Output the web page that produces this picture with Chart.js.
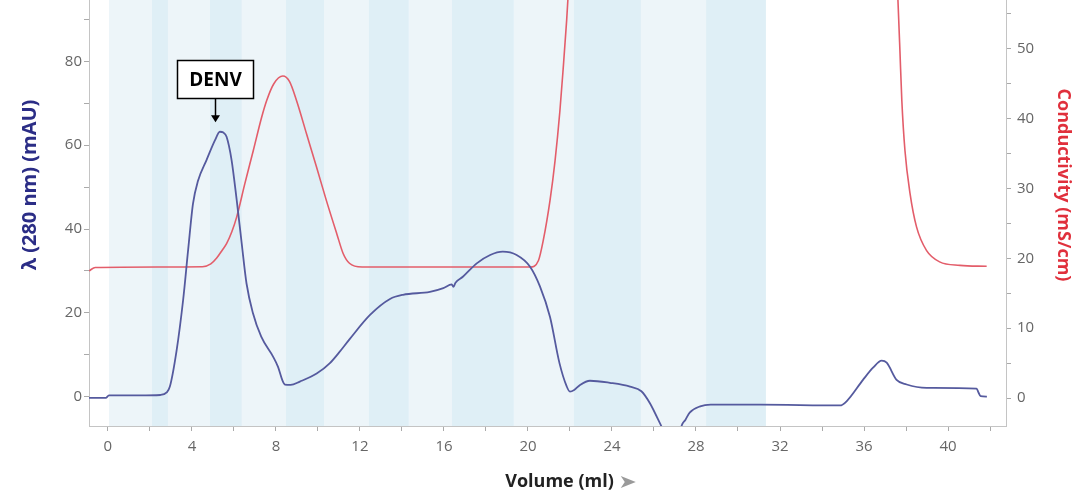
<!DOCTYPE html>
<html>
<head>
<meta charset="utf-8">
<script src="https://cdn.jsdelivr.net/npm/chart.js@4.4.0/dist/chart.umd.min.js"></script>
<style>
    html, body { margin: 0; padding: 0; background: #fff; overflow: hidden; }
    #wrap { position: relative; width: 1074px; height: 492px; overflow: hidden; }
    /* the original trace is cropped at the top, so the canvas runs a bit above the window */
    #chart { position: absolute; left: 0; top: -56px; }
</style>
</head>
<body>
<div id="wrap"><canvas id="chart" width="1074" height="548"></canvas></div>
<script>
// UV 280 nm trace (mAU) against elution volume (ml)
const uvVolume = [-0.9, -0.1, 0.05, 1.5, 2.5, 2.8, 2.95, 3.27, 3.58, 3.82, 4.05, 4.29, 4.7, 5.1, 5.33, 5.5, 5.65, 5.89,
    6.13, 6.37, 6.6, 6.9, 7.3, 7.87, 8.1, 8.3, 8.43, 8.7, 9.14, 9.94, 10.57, 11.0, 11.52, 12.48, 13.43, 14.05, 15.33,
    15.97, 16.37, 16.45, 16.55, 16.9, 17.56, 18.2, 18.8, 19.46, 20.1, 20.57, 21.05, 21.5, 21.84, 22.0, 22.2, 22.48,
    22.95, 23.9, 24.86, 25.4, 25.8, 26.2, 26.4, 26.7, 26.9, 27.05, 27.3, 27.5, 27.7, 28.2, 28.7, 31.05, 34.86, 35.17,
    35.95, 36.43, 36.84, 37.08, 37.55, 38.03, 38.98, 41.36, 41.45, 41.55, 41.85];
const uvAbs = [-0.3, -0.3, 0.3, 0.3, 0.4, 1.0, 2.4, 11, 23, 35, 46, 51.5, 56.5, 61.2, 63.2, 63, 62, 56.4,
    47, 36.6, 27, 20, 14.3, 9.5, 7.1, 4, 2.9, 2.8, 3.6, 5.5, 8, 10.5, 13.8, 19.5, 23.3, 24.3, 25,
    25.9, 26.8, 26.2, 27.2, 28.6, 31.8, 33.8, 34.6, 33.8, 31, 26.3, 19, 8, 2.5, 1.2, 1.6, 2.8,
    3.8, 3.3, 2.4, 1.3, -1.5, -5.5, -7.8, -15, -20, -15, -7.2, -5.5, -3.8, -2.3, -1.9, -1.9, -2.1, -1.1,
    4, 6.9, 8.6, 8.1, 4, 2.9, 2.1, 1.9, 1.0, 0.1, 0];

// conductivity trace (mS/cm)
const condVolume = [-0.9, -0.6, 4.5, 4.9, 5.17, 5.45, 5.65, 5.9, 6.13, 6.52, 6.92, 7.32, 7.56, 7.9, 8.33, 8.65, 8.98,
    9.46, 9.94, 10.4, 10.9, 11.2, 11.5, 12.1, 20.1, 20.5, 20.73, 21.05, 21.29, 21.52, 21.68, 21.84, 22.0, 22.3, 23,
    24, 36, 37.3, 37.55, 37.71, 37.8, 37.95, 38.19, 38.5, 38.98, 39.6, 40.57, 41.84];
const condValues = [18.2, 18.7, 18.8, 19.2, 20, 21.2, 22.1, 23.8, 25.9, 30.7, 35.4, 40.2, 42.6, 45, 46.1, 45.3, 42.6,
    37.8, 33, 28.3, 23.5, 20.7, 19.3, 18.76, 18.76, 19.7, 22.6, 28.3, 34, 41.1, 47.3, 54, 62, 75, 88,
    92, 92, 80, 62, 49.7, 42.6, 35.4, 29.3, 24.5, 21.1, 19.5, 19, 18.86];

// fraction band edges (ml), alternating light / dark shading
const fractionEdges = [0.05, 2.1, 2.86, 4.86, 6.38, 8.48, 10.29, 12.43, 14.33, 16.38, 19.33, 22.19, 25.38, 28.48, 31.33];

const volumeTicks = [0, 2, 4, 6, 8, 10, 12, 14, 16, 18, 20, 22, 24, 26, 28, 30, 32, 34, 36, 38, 40, 42];
const uvTicks = [0, 10, 20, 30, 40, 50, 60, 70, 80, 90, 100];
const condTicks = [0, 5, 10, 15, 20, 25, 30, 35, 40, 45, 50, 55, 60];

const peakLabel = 'DENV';
const peakVolume = 5.1;
const peakValue = 65.5;

const fractionBands = {
    id: 'fractionBands',
    beforeDraw(chart) {
        const { ctx, chartArea, scales: { x } } = chart;
        ctx.save();
        for (let i = 0; i < fractionEdges.length - 1; i++) {
            const x0 = x.getPixelForValue(fractionEdges[i]);
            const x1 = x.getPixelForValue(fractionEdges[i + 1]);
            ctx.fillStyle = i % 2 ? '#dfeff6' : '#edf5f9';
            ctx.fillRect(x0, chartArea.top, x1 - x0, chartArea.bottom - chartArea.top);
        }
        ctx.restore();
    }
};

const callouts = {
    id: 'callouts',
    afterDraw(chart) {
        const { ctx, scales: { x, y } } = chart;
        const px = Math.round(x.getPixelForValue(peakVolume)) + 0.5;
        const py = y.getPixelForValue(peakValue);
        ctx.save();
        // arrow pointing at the peak
        ctx.strokeStyle = '#000';
        ctx.fillStyle = '#000';
        ctx.lineWidth = 1.5;
        ctx.beginPath();
        ctx.moveTo(px, py - 24);
        ctx.lineTo(px, py - 6);
        ctx.stroke();
        ctx.beginPath();
        ctx.moveTo(px - 4.5, py - 7);
        ctx.lineTo(px + 4.5, py - 7);
        ctx.lineTo(px, py);
        ctx.closePath();
        ctx.fill();
        // label box
        const w = 76, h = 38, top = Math.round(py - 62) + 0.5;
        ctx.fillStyle = '#fff';
        ctx.fillRect(px - w / 2, top, w, h);
        ctx.strokeRect(px - w / 2, top, w, h);
        ctx.fillStyle = '#000';
        ctx.font = "bold 19px 'Open Sans', sans-serif";
        ctx.textAlign = 'center';
        ctx.textBaseline = 'middle';
        ctx.fillText(peakLabel, px, top + h / 2 + 1);

        // x axis title with its little grey arrow
        const cx = (x.left + x.right) / 2 + 12;
        const ty = chart.height - 10;
        ctx.font = "bold 18px 'Open Sans', sans-serif";
        ctx.fillStyle = '#222';
        ctx.fillText('Volume (ml)', cx, ty);
        const ax = cx + ctx.measureText('Volume (ml)').width / 2 + 7;
        ctx.fillStyle = '#9a9a9a';
        ctx.beginPath();
        ctx.moveTo(ax, ty - 6);
        ctx.lineTo(ax + 15, ty);
        ctx.lineTo(ax, ty + 6);
        ctx.lineTo(ax + 4, ty);
        ctx.closePath();
        ctx.fill();
        ctx.restore();
    }
};

// fixed box sizes, and no extra room reserved for half tick labels
function fixBox(size) {
    return s => {
        if (s.isHorizontal()) s.height = size; else s.width = size;
        s.paddingTop = 0;
        s.paddingBottom = 0;
        s.paddingLeft = 0;
        s.paddingRight = 0;
    };
}

function initChart() {
    const ctx = document.getElementById('chart').getContext('2d');

    Chart.defaults.font.family = "'Open Sans', sans-serif";
    Chart.defaults.color = '#666';

    const toPoints = (xs, ys) => xs.map((v, i) => ({ x: v, y: ys[i] }));

    new Chart(ctx, {
        type: 'line',
        data: {
            datasets: [
                {
                    label: 'UV 280 nm',
                    data: toPoints(uvVolume, uvAbs),
                    yAxisID: 'y',
                    borderColor: '#555a9e',
                    borderWidth: 1.8,
                    pointRadius: 0,
                    cubicInterpolationMode: 'monotone'
                },
                {
                    label: 'Conductivity',
                    data: toPoints(condVolume, condValues),
                    yAxisID: 'y2',
                    borderColor: '#e35d6a',
                    borderWidth: 1.6,
                    pointRadius: 0,
                    cubicInterpolationMode: 'monotone'
                }
            ]
        },
        options: {
            responsive: false,
            animation: false,
            layout: { padding: 0, autoPadding: false },
            scales: {
                x: {
                    type: 'linear',
                    min: -0.9,
                    max: 42.76,
                    afterBuildTicks: s => { s.ticks = volumeTicks.map(v => ({ value: v })); },
                    afterFit: fixBox(66),
                    grid: { drawOnChartArea: false, tickLength: 5, color: '#aaa' },
                    border: { color: '#c4c4c4' },
                    ticks: {
                        autoSkip: false,
                        maxRotation: 0,
                        padding: 7,
                        font: { size: 15 },
                        callback: v => (v % 4 === 0 ? v : '')
                    }
                },
                y: {
                    position: 'left',
                    min: -7,
                    max: 108,
                    afterBuildTicks: s => { s.ticks = uvTicks.map(v => ({ value: v })); },
                    afterFit: fixBox(89),
                    grid: { drawOnChartArea: false, tickLength: 5, color: '#aaa' },
                    border: { color: '#c4c4c4' },
                    ticks: {
                        padding: 2,
                        font: { size: 15 },
                        callback: v => (v % 20 === 0 ? v : '')
                    },
                    title: {
                        display: true,
                        text: 'λ (280 nm) (mAU)',
                        color: '#2b2d86',
                        font: { size: 20, weight: 'bold' },
                        padding: { top: 18, bottom: 0 }
                    }
                },
                y2: {
                    position: 'right',
                    min: -4,
                    max: 65,
                    afterBuildTicks: s => { s.ticks = condTicks.map(v => ({ value: v })); },
                    afterFit: fixBox(68),
                    grid: { drawOnChartArea: false, tickLength: 5, color: '#aaa' },
                    border: { color: '#c4c4c4' },
                    ticks: {
                        padding: 6,
                        font: { size: 15 },
                        callback: v => (v % 10 === 0 ? v : '')
                    },
                    title: {
                        display: true,
                        text: 'Conductivity (mS/cm)',
                        color: '#e0303c',
                        font: { size: 18, weight: 'bold' },
                        padding: { top: 0, bottom: 0 }
                    }
                }
            },
            plugins: {
                legend: { display: false },
                tooltip: { enabled: false }
            }
        },
        plugins: [fractionBands, callouts]
    });
}

document.addEventListener('DOMContentLoaded', initChart);
</script>
</body>
</html>
